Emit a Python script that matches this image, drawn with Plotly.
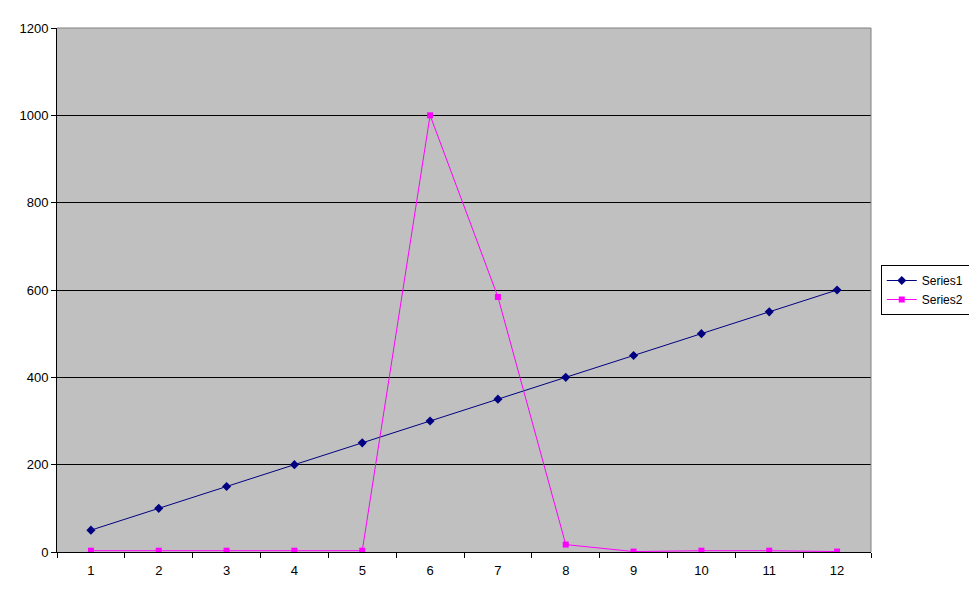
import plotly.graph_objects as go

# data
categories = [str(i) for i in range(1, 13)]
series1 = [50, 100, 150, 200, 250, 300, 350, 400, 450, 500, 550, 600]
series2 = [3, 3, 3, 3, 3, 1000, 584, 17, 1, 3, 3, 1]

fig = go.Figure()

fig.add_trace(go.Scatter(
    x=categories, y=series1, name="Series1", mode="lines+markers",
    line=dict(color="#000080", width=1),
    marker=dict(symbol="diamond", size=7, color="#000080")))

fig.add_trace(go.Scatter(
    x=categories, y=series2, name="Series2", mode="lines+markers",
    line=dict(color="#FF00FF", width=1),
    marker=dict(symbol="square", size=6, color="#FF00FF")))

# the page puts an 8px body margin round the figure, so margins are trimmed by that
fig.update_layout(
    width=977, height=600,
    margin=dict(l=49, r=114, t=20, b=56),
    plot_bgcolor="#C0C0C0",
    paper_bgcolor="white",
    font=dict(family="Liberation Sans, Arial", size=13, color="black"),
    showlegend=True,
    legend=dict(x=1.012, y=0.5, xanchor="left", yanchor="middle",
                bordercolor="black", borderwidth=1, bgcolor="white",
                font=dict(size=12), tracegroupgap=0),
    # gray border on top and right of the plot area
    shapes=[
        dict(type="line", xref="paper", yref="paper", x0=0, x1=1, y0=1, y1=1,
             line=dict(color="#808080", width=1)),
        dict(type="line", xref="paper", yref="paper", x0=1, x1=1, y0=0, y1=1,
             line=dict(color="#808080", width=1)),
    ])

fig.update_xaxes(type="category", range=[-0.5, 11.5], tickson="boundaries",
                 ticks="outside", ticklen=5, tickcolor="black", showline=True,
                 linecolor="black", showgrid=False, zeroline=False,
                 ticklabelstandoff=6)
fig.update_yaxes(range=[0, 1200], dtick=200, ticks="outside", ticklen=5,
                 tickcolor="black", showline=True, linecolor="black",
                 gridcolor="black", gridwidth=1, zeroline=False)

fig.write_html("out.html")
